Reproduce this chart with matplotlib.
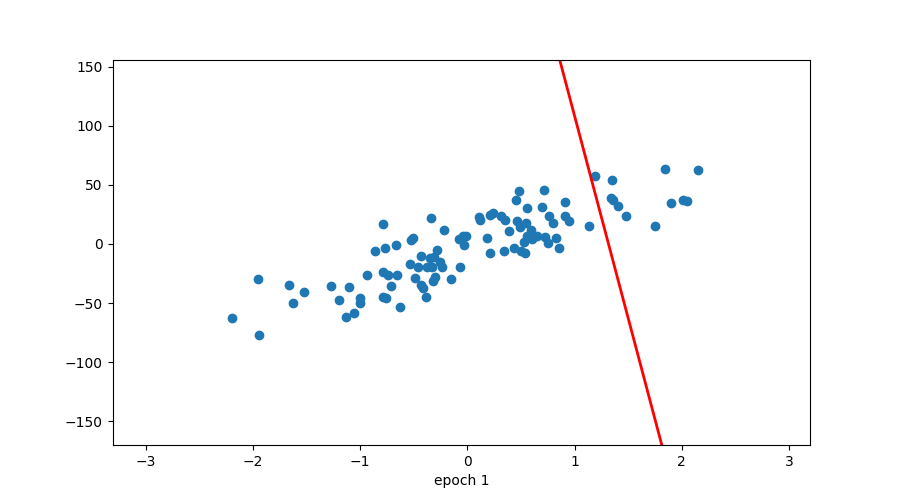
import numpy as np
import matplotlib
matplotlib.use("Agg")
import matplotlib.pyplot as plt

# points
xs = [-2.20, -1.95, -1.94, -1.66, -1.63, -1.52, -1.27, -1.20, -1.13, -1.10,
      -1.06, -1.00, -1.00, -0.94, -0.86, -0.79, -0.79, -0.77, -0.79, -0.76,
      -0.74, -0.71, -0.67, -0.66, -0.63, -0.54, -0.53, -0.51, -0.49, -0.46,
      -0.43, -0.43, -0.41, -0.39, -0.38, -0.35, -0.34, -0.33, -0.32, -0.31,
      -0.30, -0.28, -0.26, -0.24, -0.22, -0.15, -0.07, -0.08, -0.04, -0.03,
      -0.01, 0.11, 0.12, 0.18, 0.21, 0.21, 0.24, 0.31, 0.34, 0.35,
      0.39, 0.43, 0.45, 0.46, 0.48, 0.49, 0.50, 0.53, 0.54, 0.55,
      0.56, 0.56, 0.59, 0.60, 0.65, 0.70, 0.71, 0.72, 0.75, 0.76,
      0.80, 0.83, 0.85, 0.91, 0.91, 0.95, 1.13, 1.19, 1.34, 1.35,
      1.36, 1.40, 1.48, 1.75, 1.84, 1.90, 2.01, 2.05, 2.15]
ys = [-62.6, -29.6, -77.0, -34.7, -50.0, -40.6, -35.5, -47.3, -61.7, -36.3,
      -58.3, -45.6, -49.9, -26.2, -5.9, 16.9, -44.8, -3.4, -23.7, -45.6,
      -26.2, -35.5, -0.8, -26.2, -53.3, -16.9, 3.4, 5.1, -28.7, -19.4,
      -10.1, -34.7, -37.2, -44.8, -19.4, -11.8, 22.0, -19.4, -31.3, -11.0,
      -27.9, -5.1, -15.2, -19.4, 11.8, -29.6, -19.4, 4.2, 6.8, -0.8,
      6.8, 22.8, 20.3, 5.1, -7.6, 24.5, 26.2, 23.7, -5.9, 20.3,
      11.0, -3.4, 37.2, 19.4, 44.8, 14.4, -5.9, 1.7, -7.6, 17.8,
      30.4, 6.8, 11.8, 4.2, 6.8, 31.3, 45.6, 5.9, 0.8, 23.7,
      17.8, 5.1, -3.4, 35.5, 23.7, 19.4, 15.2, 57.5, 38.9, 54.1,
      37.2, 32.1, 23.7, 15.2, 63.4, 34.7, 37.2, 36.3, 62.6]

# fitted line after epoch 1
w = -342.0
b = 450.0


def main():
    fig, ax = plt.subplots(figsize=(9, 5), dpi=100)
    ax.scatter(xs, ys)
    lx = np.array([min(xs) - 1.2, max(xs) + 1.2])
    ax.plot(lx, w * lx + b, color="red", linewidth=2)
    ax.set_xlim(-3.31, 3.195)
    ax.set_ylim(-170, 155.5)
    ax.set_xlabel("epoch 1")
    fig.savefig("out.png")


if __name__ == "__main__":
    main()
